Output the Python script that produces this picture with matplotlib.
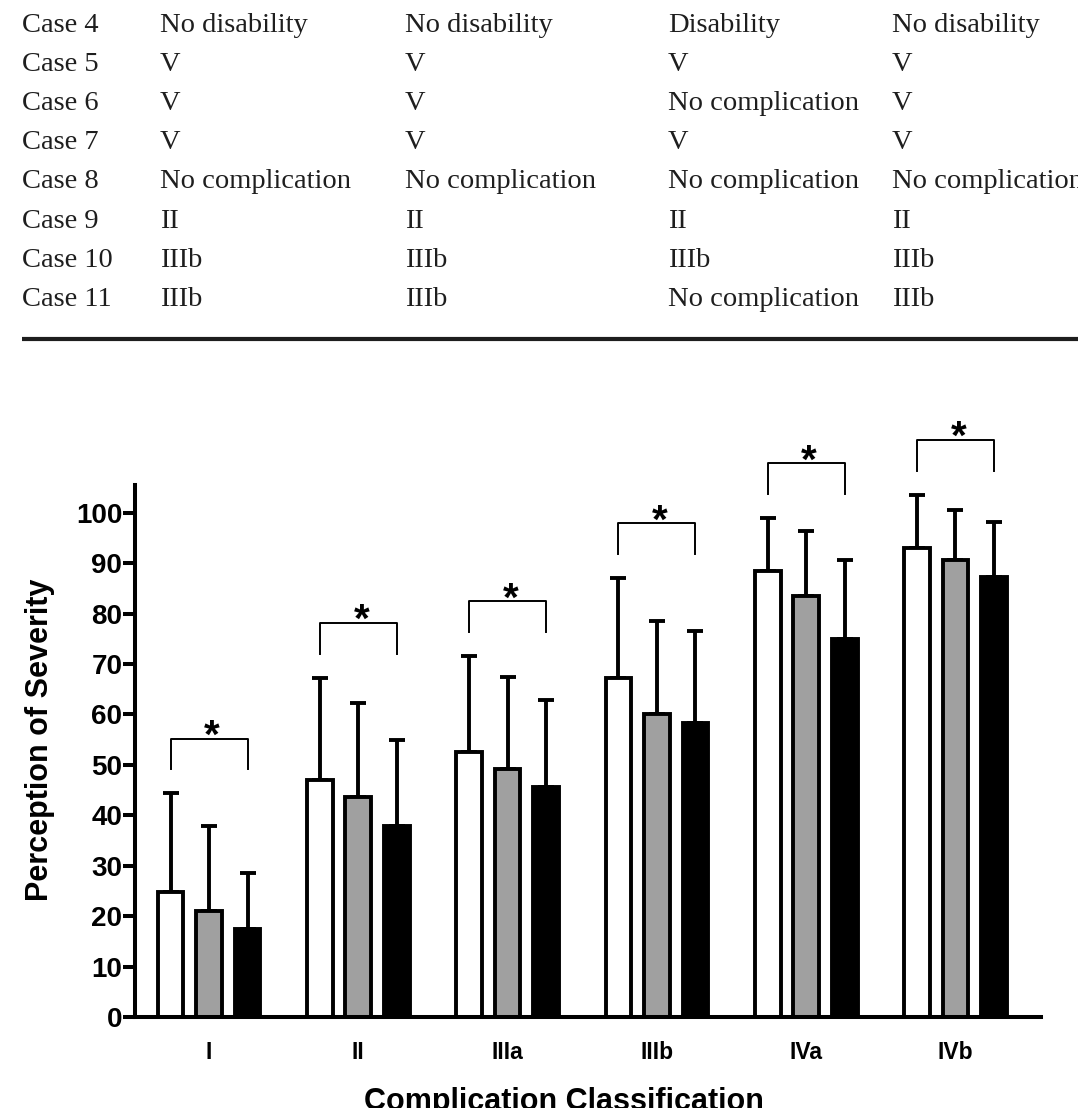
import matplotlib
matplotlib.use('Agg')
import matplotlib.pyplot as plt
import numpy as np

# table rows above the chart
cases = ["Case 4", "Case 5", "Case 6", "Case 7", "Case 8", "Case 9", "Case 10", "Case 11"]
col_a = ["No disability", "V", "V", "V", "No complication", "II", "IIIb", "IIIb"]
col_b = ["No disability", "V", "V", "V", "No complication", "II", "IIIb", "IIIb"]
col_c = ["Disability", "V", "No complication", "V", "No complication", "II", "IIIb", "No complication"]
col_d = ["No disability", "V", "V", "V", "No complication", "II", "IIIb", "IIIb"]

# bar chart data
groups = ["I", "II", "IIIa", "IIIb", "IVa", "IVb"]
white_mean = [24.8, 47.0, 52.6, 67.3, 88.5, 93.0]
white_top = [44.4, 67.3, 71.6, 87.1, 99.0, 103.6]
gray_mean = [21.0, 43.7, 49.2, 60.1, 83.4, 90.7]
gray_top = [37.9, 62.3, 67.5, 78.6, 96.4, 100.6]
black_mean = [17.5, 37.9, 45.6, 58.3, 75.0, 87.3]
black_top = [28.6, 55.0, 62.9, 76.6, 90.7, 98.2]

W, H = 1078, 1108
fig = plt.figure(figsize=(W / 100, H / 100), dpi=100)

# ---- table part (pixel coords) ----
tax = fig.add_axes([0, 0, 1, 1])
tax.set_xlim(0, W)
tax.set_ylim(H, 0)
tax.axis('off')
col_x = [22, 160, 405, 668, 892]
serif = dict(family='Liberation Serif', fontsize=20.5, color='#1e1e1e', va='baseline')
for i in range(len(cases)):
    yb = 32 + 39.1 * i
    for x, col in zip(col_x, [cases, col_a, col_b, col_c, col_d]):
        tax.text(x, yb, col[i], **serif)
tax.plot([22, W], [339, 339], color='#1e1e1e', lw=3, solid_capstyle='butt')

# ---- chart ----
ax = fig.add_axes([135 / W, 1 - 1017 / H, (1041 - 135) / W, (1017 - 485) / H])
x = np.arange(len(groups))
off = 0.258
bw = 0.172
series = [(white_mean, white_top, 'white'), (gray_mean, gray_top, '#a0a0a0'),
          (black_mean, black_top, 'black')]
for k, (m, t, c) in enumerate(series):
    xs = x + (k - 1) * off
    m = np.array(m)
    t = np.array(t)
    ax.errorbar(xs, m, yerr=[np.zeros_like(m), t - m], fmt='none', ecolor='black',
                elinewidth=2.8, capsize=5.8, capthick=2.8, zorder=1, clip_on=False)
    ax.bar(xs, m, width=bw, color=c, edgecolor='black', linewidth=2.8, zorder=2)

# significance brackets
tops = np.max([white_top, gray_top, black_top], axis=0)
for i in range(len(groups)):
    yb = tops[i] + 10.8
    x0, x1 = x[i] - off, x[i] + off
    ax.plot([x0, x0, x1, x1], [yb - 6.1, yb, yb, yb - 6.1], color='black', lw=1.4,
            clip_on=False)
    ax.annotate('*', (x[i] + 0.02, yb), xytext=(0, -6.5), textcoords='offset points',
                ha='center', va='baseline', fontsize=29, fontweight='bold',
                family='Liberation Sans', annotation_clip=False)

ax.set_xlim(-0.496, 5.573)
ax.set_ylim(0, 105.5)
ax.set_yticks(range(0, 101, 10))
ax.set_xticks(x)
ax.set_xticklabels(groups)
for s in ['top', 'right']:
    ax.spines[s].set_visible(False)
for s in ['left', 'bottom']:
    ax.spines[s].set_linewidth(2.9)
ax.tick_params(axis='y', length=8.6, width=2.9, pad=0.5, labelsize=20)
ax.tick_params(axis='x', length=0, pad=17, labelsize=16.5)
for lab in ax.get_xticklabels() + ax.get_yticklabels():
    lab.set_fontweight('bold')
    lab.set_family('Liberation Sans')

fig.text(40 / W, 1 - 740 / H, 'Perception of Severity', rotation=90, ha='center',
         va='center', fontsize=22, fontweight='bold', family='Liberation Sans')
fig.text(564 / W, 1 - 1087 / H, 'Complication Classification', ha='center', va='top',
         fontsize=22, fontweight='bold', family='Liberation Sans')

fig.savefig('out.png', dpi=100)
